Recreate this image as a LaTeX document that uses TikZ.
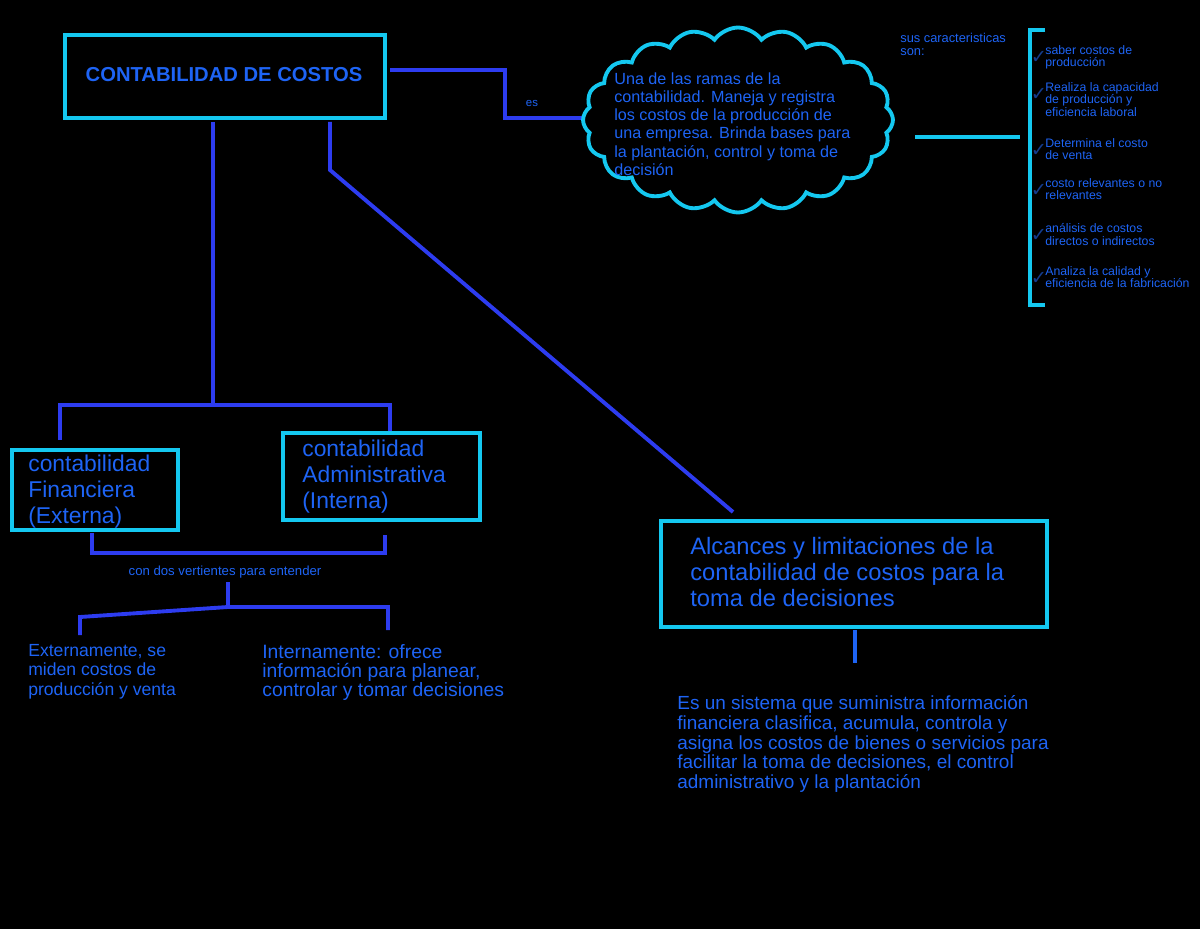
\documentclass[tikz,border=0pt]{standalone}
\usepackage{fontspec}
\setmainfont{Liberation Sans}
\newfontfamily\djv{DejaVu Sans}
\usetikzlibrary{shapes.symbols}
\definecolor{cy}{RGB}{20,200,240}
\definecolor{bl}{RGB}{45,60,240}
\definecolor{tx}{RGB}{30,100,245}
\definecolor{nv}{RGB}{20,60,140}
\tikzset{
 cbox/.style={draw=cy,line width=2.4pt},
 bline/.style={draw=bl,line width=2.2pt},
 txt/.style={text=tx,inner sep=0pt,align=left,anchor=north west},
 chk/.style={text=nv,font=\fontsize{11}{11}\djv\bfseries,inner sep=0pt},
 item/.style={txt,font=\fontsize{7}{7.2}\selectfont},
}
\begin{document}
\begin{tikzpicture}[x=0.02cm,y=-0.02cm]
\fill[black] (0,0) rectangle (1200,929);
\useasboundingbox (0,0) rectangle (1200,929);
% main box
\draw[cbox] (65,35) rectangle (385,118);
\node[text=tx,font=\fontsize{11.5}{13}\selectfont\bfseries] (main) at (224,75) {CONTABILIDAD DE COSTOS};
\coordinate (m1) at (390,70);
\coordinate (c1) at (585,118);
\draw[bline] (m1) -- (505,70) -- (505,118) -- (c1);
\node[text=tx,font=\fontsize{6.5}{7}\selectfont] (es) at (532,103) {es};
% cloud
\node[cloud,draw=cy,line width=2.2pt,cloud puffs=20,cloud puff arc=110,aspect=1.7,minimum width=6.2cm,minimum height=3.7cm] (cloud) at (738,120) {};
\node[txt,font=\fontsize{9.2}{10.4}\selectfont] (ctext) at (614,72) {Una de las ramas de la\\contabilidad. Maneja y registra\\los costos de la producción de\\una empresa. Brinda bases para\\la plantación, control y toma de\\decisión};
% characteristics
\coordinate (l1) at (915,137);
\coordinate (l2) at (1020,137);
\draw[draw=cy,line width=2pt] (l1) -- (l2);
\node[txt,font=\fontsize{7.3}{7.5}\selectfont] (sus) at (900,33) {sus caracteristicas\\son:};
\draw[draw=cy,line width=2.4pt] (1045,30) -- (1030,30) -- (1030,305) -- (1045,305);
\foreach \yy/\tt [count=\i] in {45/{saber costos de\\producción},82/{Realiza la capacidad\\de producción y\\eficiencia laboral},138/{Determina el costo\\de venta},178/{costo relevantes o no\\relevantes},223/{análisis de costos\\directos o indirectos},266/{Analiza la calidad y\\eficiencia de la fabricación}}{
 \node[item] (it\i) at (1045,\yy) {\tt};
 \node[chk] (ck\i) at (1039,\yy+12) {✓};
}
% left tree
\coordinate (t0) at (213,122);
\coordinate (t1) at (213,405);
\draw[bline] (t0) -- (t1);
\draw[bline] (60,440) -- (60,405) -- (390,405) -- (390,432);
\draw[cbox] (12,450) rectangle (178,530);
\node[txt,font=\fontsize{13}{14.7}\selectfont] (fin) at (28,455) {contabilidad\\Financiera\\(Externa)};
\draw[cbox] (283,433) rectangle (480,520);
\node[txt,font=\fontsize{13}{14.7}\selectfont] (adm) at (302,440) {contabilidad\\Administrativa\\(Interna)};
\draw[bline] (92,533) -- (92,553) -- (385,553) -- (385,535);
\node[text=tx,font=\fontsize{7.5}{8}\selectfont,inner sep=0pt] (dos) at (225,572) {con dos vertientes para entender};
\draw[bline] (228,582) -- (228,607);
\draw[bline] (80,635) -- (80,617) -- (228,607) -- (388,607) -- (388,630);
\node[txt,font=\fontsize{10}{11}\selectfont] (ext) at (28,644) {Externamente, se\\miden costos de\\producción y venta};
\node[txt,font=\fontsize{11}{11}\selectfont] (int) at (262,644) {Internamente: ofrece\\información para planear,\\controlar y tomar decisiones};
% diagonal
\coordinate (d0) at (330,122);
\coordinate (d1) at (733,512);
\draw[bline] (d0) -- (330,170) -- (d1);
\draw[cbox] (661,521) rectangle (1047,627);
\node[txt,font=\fontsize{13.5}{14.7}\selectfont] (alc) at (690,537) {Alcances y limitaciones de la\\contabilidad de costos para la\\toma de decisiones};
\coordinate (v0) at (855,630);
\coordinate (v1) at (855,663);
\draw[draw=tx,line width=2.2pt] (v0) -- (v1);
\node[txt,font=\fontsize{10.8}{11.3}\selectfont] (sis) at (677,695) {Es un sistema que suministra información\\financiera clasifica, acumula, controla y\\asigna los costos de bienes o servicios para\\facilitar la toma de decisiones, el control\\administrativo y la plantación};
\end{tikzpicture}
\end{document}
